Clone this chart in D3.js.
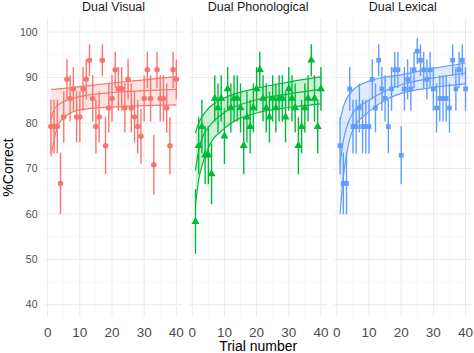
<!DOCTYPE html>
<html>

<head>
    <meta charset="utf-8">
    <style>
        body {
            margin: 0;
            background: white;
        }

        svg {
            font-family: 'Liberation Sans', Arial, Helvetica, sans-serif;
        }

        .grid-major {
            stroke: #ebebeb;
            stroke-width: 1;
        }

        .grid-minor {
            stroke: #f2f2f2;
            stroke-width: 0.6;
        }
    </style>
</head>

<body>
    <svg width="474" height="353"></svg>
</body>

<script src="https://d3js.org/d3.v7.min.js"></script>

<script>
    // trial numbers and percent correct per condition
    let trials = d3.range(1, 41)

    let visual = [79.2, 79.2, 79.2, 66.7, 81.3, 89.6, 85.4, 87.5, 81.3, 81.3,
        87.5, 89.6, 93.8, 85.4, 79.2, 81.3, 93.8, 75.0, 83.3, 85.4,
        91.7, 87.5, 87.5, 83.3, 89.6, 83.3, 81.3, 79.2, 77.1, 85.4,
        91.7, 85.4, 70.8, 91.7, 85.4, 85.4, 83.3, 75.0, 91.7, 89.6]
    let visualErr = [5.9, 5.9, 5.9, 6.8, 5.6, 4.4, 5.1, 4.8, 5.6, 5.6,
        4.8, 4.4, 3.5, 5.1, 5.9, 5.6, 3.5, 6.3, 5.4, 5.1,
        4.0, 4.8, 4.8, 5.4, 4.4, 5.4, 5.6, 5.9, 6.1, 5.1,
        4.0, 5.1, 6.6, 4.0, 5.1, 5.1, 5.4, 6.3, 4.0, 4.4]

    let phono = [58.3, 75.0, 79.2, 72.9, 72.9, 68.8, 85.4, 83.3, 85.4, 77.1,
        87.5, 83.3, 85.4, 85.4, 83.3, 75.0, 81.3, 79.2, 83.3, 87.5,
        91.7, 85.4, 83.3, 81.3, 85.4, 83.3, 85.4, 85.4, 81.3, 87.5,
        85.4, 83.3, 75.0, 79.2, 83.3, 85.4, 93.8, 85.4, 79.2, 87.5]
    let phonoErr = [7.1, 6.3, 5.9, 6.4, 6.4, 6.7, 5.1, 5.4, 5.1, 6.1,
        4.8, 5.4, 5.1, 5.1, 5.4, 6.3, 5.6, 5.9, 5.4, 4.8,
        4.0, 5.1, 5.4, 5.6, 5.1, 5.4, 5.1, 5.1, 5.6, 4.8,
        5.1, 5.4, 6.3, 5.9, 5.4, 5.1, 3.5, 5.1, 5.9, 4.8]

    let lexical = [75.0, 66.7, 66.7, 87.5, 79.2, 79.2, 83.3, 79.2, 79.2, 79.2,
        89.6, 83.3, 93.8, 87.5, 85.4, 79.2, 87.5, 91.7, 91.7, 72.9,
        87.5, 89.6, 87.5, 91.7, 95.8, 93.8, 91.7, 89.6, 91.7, 87.5,
        83.3, 85.4, 85.4, 85.4, 83.3, 93.8, 87.5, 91.7, 93.8, 87.5]
    let lexicalErr = [6.3, 6.8, 6.8, 4.8, 5.9, 5.9, 5.4, 5.9, 5.9, 5.9,
        4.4, 5.4, 3.5, 4.8, 5.1, 5.9, 4.8, 4.0, 4.0, 6.4,
        4.8, 4.4, 4.8, 4.0, 2.9, 3.5, 4.0, 4.4, 4.0, 4.8,
        5.4, 5.1, 5.1, 5.1, 5.4, 3.5, 4.8, 4.0, 3.5, 4.8]

    // fitted curves (centre line and band edges) read at a few trials
    let fitTrials = [1, 2, 3, 5, 10, 20, 30, 40]
    let visualFit = [80.7, 82.9, 83.8, 84.7, 85.8, 86.7, 87.1, 87.4]
    let visualHi = [87.4, 87.4, 87.5, 87.6, 88.0, 88.8, 89.5, 90.2]
    let visualLo = [72.6, 76.3, 79.0, 81.2, 82.9, 83.5, 83.8, 84.0]
    let phonoFit = [69.5, 74.0, 76.5, 79.0, 82.3, 85.1, 86.4, 87.4]
    let phonoHi = [77.8, 80.0, 81.3, 83.2, 85.5, 87.6, 89.0, 90.2]
    let phonoLo = [62.0, 67.5, 70.5, 74.5, 78.8, 82.2, 83.4, 84.2]
    let lexicalFit = [71.0, 76.0, 79.0, 82.2, 85.0, 88.4, 89.9, 91.0]
    let lexicalHi = [80.5, 83.5, 85.3, 87.2, 89.2, 90.6, 92.0, 93.2]
    let lexicalLo = [60.0, 68.0, 73.0, 78.5, 82.5, 86.5, 87.8, 88.6]

    let panelNames = ["Dual Visual", "Dual Phonological", "Dual Lexical"]
    let xTicks = [0, 10, 20, 30, 40]
    let yTicks = [40, 50, 60, 70, 80, 90, 100]

    let panels = [
        { name: panelNames[0], color: "#F8766D", shape: d3.symbolCircle, size: 24, y: visual, err: visualErr, fit: visualFit, hi: visualHi, lo: visualLo },
        { name: panelNames[1], color: "#00BA38", shape: d3.symbolTriangle, size: 28, y: phono, err: phonoErr, fit: phonoFit, hi: phonoHi, lo: phonoLo },
        { name: panelNames[2], color: "#619CFF", shape: d3.symbolSquare, size: 22, y: lexical, err: lexicalErr, fit: lexicalFit, hi: lexicalHi, lo: lexicalLo }
    ]

    let svg = d3.select("svg")

    let left = 44.6
    let panelWidth = 138
    let gap = 6.6
    let panelTop = 18
    let panelBottom = 317

    let xScale = d3.scaleLinear()
        .domain([-0.95, 41.95])
        .range([0, panelWidth])

    let yScale = d3.scaleLinear()
        .domain([37.3, 103.1])
        .range([panelBottom, panelTop])

    panels.forEach(function (p, i) {
        let g = svg.append("g")
            .attr("transform", "translate(" + (left + i * (panelWidth + gap)) + ",0)")

        // minor grid
        g.selectAll(".gx-minor")
            .data([5, 15, 25, 35])
            .join("line")
            .attr("class", "grid-minor")
            .attr("x1", d => xScale(d)).attr("x2", d => xScale(d))
            .attr("y1", panelTop).attr("y2", panelBottom)
        g.selectAll(".gy-minor")
            .data([45, 55, 65, 75, 85, 95])
            .join("line")
            .attr("class", "grid-minor")
            .attr("x1", 0).attr("x2", panelWidth)
            .attr("y1", d => yScale(d)).attr("y2", d => yScale(d))

        // major grid
        g.selectAll(".gx-major")
            .data(xTicks)
            .join("line")
            .attr("class", "grid-major")
            .attr("x1", d => xScale(d)).attr("x2", d => xScale(d))
            .attr("y1", panelTop).attr("y2", panelBottom)
        g.selectAll(".gy-major")
            .data(yTicks)
            .join("line")
            .attr("class", "grid-major")
            .attr("x1", 0).attr("x2", panelWidth)
            .attr("y1", d => yScale(d)).attr("y2", d => yScale(d))

        // strip title
        g.append("text")
            .attr("x", panelWidth / 2)
            .attr("y", 11)
            .attr("text-anchor", "middle")
            .style("font-size", "12.5px")
            .style("fill", "#1a1a1a")
            .text(p.name)

        // x tick labels
        g.selectAll(".xlab")
            .data(xTicks)
            .join("text")
            .attr("x", d => xScale(d))
            .attr("y", 336.5)
            .attr("text-anchor", "middle")
            .style("font-size", "13.5px")
            .style("fill", "#4d4d4d")
            .text(d => d)

        // band + curves
        let fitRows = fitTrials.map((t, j) => ({ t: t, fit: p.fit[j], hi: p.hi[j], lo: p.lo[j] }))

        let area = d3.area()
            .x(d => xScale(d.t))
            .y0(d => yScale(d.lo))
            .y1(d => yScale(d.hi))
            .curve(d3.curveMonotoneX)

        g.append("path")
            .datum(fitRows)
            .attr("d", area)
            .style("fill", p.color)
            .style("fill-opacity", 0.2)
            .style("stroke", "none")

        let keys = ["hi", "fit", "lo"]
        keys.forEach(function (k) {
            let line = d3.line()
                .x(d => xScale(d.t))
                .y(d => yScale(d[k]))
                .curve(d3.curveMonotoneX)
            g.append("path")
                .datum(fitRows)
                .attr("d", line)
                .style("fill", "none")
                .style("stroke", p.color)
                .style("stroke-width", 1.2)
        })

        let rows = trials.map((t, j) => ({ t: t, y: p.y[j], e: p.err[j] }))

        // error bars
        g.selectAll(".bar")
            .data(rows)
            .join("line")
            .attr("x1", d => xScale(d.t)).attr("x2", d => xScale(d.t))
            .attr("y1", d => yScale(d.y - d.e))
            .attr("y2", d => yScale(d.y + d.e))
            .style("stroke", p.color)
            .style("stroke-width", 1.4)

        // points
        let sym = d3.symbol().type(p.shape).size(p.size)
        g.selectAll(".pt")
            .data(rows)
            .join("path")
            .attr("transform", d => "translate(" + xScale(d.t) + "," + yScale(d.y) + ")")
            .attr("d", sym)
            .style("fill", p.color)
    })

    // y tick labels
    svg.selectAll(".ylab")
        .data(yTicks)
        .join("text")
        .attr("x", 37.5)
        .attr("y", d => yScale(d))
        .attr("dy", "0.35em")
        .attr("text-anchor", "end")
        .style("font-size", "10.5px")
        .style("fill", "#4d4d4d")
        .text(d => d)

    // axis titles
    svg.append("text")
        .attr("transform", "translate(13," + ((panelTop + panelBottom) / 2) + ") rotate(-90)")
        .attr("text-anchor", "middle")
        .style("font-size", "14px")
        .style("fill", "black")
        .text("%Correct")

    svg.append("text")
        .attr("x", left + (3 * panelWidth + 2 * gap) / 2)
        .attr("y", 351)
        .attr("text-anchor", "middle")
        .style("font-size", "14px")
        .style("fill", "black")
        .text("Trial number")
</script>

</html>
